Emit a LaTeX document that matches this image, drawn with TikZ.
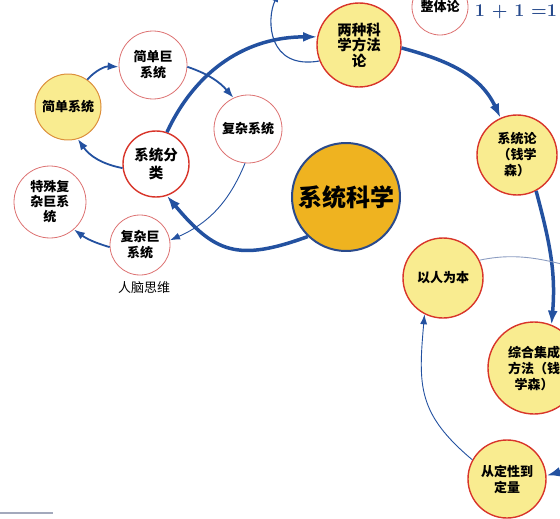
\documentclass[tikz,border=0pt]{standalone}
\usepackage{fontspec}
\newfontfamily\cjk{Noto Sans CJK SC}
\usetikzlibrary{arrows.meta}
\definecolor{arcblue}{HTML}{2351A0}
\definecolor{paleblue}{HTML}{8C9DC2}
\definecolor{navy}{HTML}{2A4A8C}
\definecolor{lightgold}{HTML}{F9EC90}
\definecolor{deepgold}{HTML}{EFB320}
\definecolor{rimred}{HTML}{D8352A}
\definecolor{rimpink}{HTML}{DD7272}
\definecolor{rimorange}{HTML}{DC8F3C}
\definecolor{eqblue}{HTML}{26498C}
\definecolor{rulegray}{HTML}{A3A9BC}
\tikzset{>=latex}
\tikzset{
  sysnode/.style={circle, inner sep=0pt, align=center, text=black,
    font=\cjk\bfseries\fontsize{13}{16}\selectfont},
  whitenode/.style={sysnode, fill=white, draw=rimpink, line width=0.8pt},
  yellownode/.style={sysnode, fill=lightgold, draw=rimred, line width=1.4pt},
  thickarc/.style={->, >={Latex[length=14pt,width=10pt]}, draw=arcblue, line width=3.5pt},
  midarc/.style={->, >={Latex[length=11pt,width=8pt]}, draw=arcblue, line width=1.8pt},
  thinarc/.style={->, >={Latex[length=10pt,width=7pt]}, draw=arcblue, line width=0.9pt}
}

\begin{document}
\begin{tikzpicture}[x=1pt, y=1pt, line join=round]
    \useasboundingbox (0,0) rectangle (560,-519);
    \clip (0,0) rectangle (560,-519);
    \node[whitenode, minimum size=68] (jdj) at (153,-65) {简单巨\\系统};
    \node[yellownode, draw=rimorange, line width=1pt, minimum size=66] (jd) at (68,-107) {简单系统};
    \node[whitenode, minimum size=68] (fz) at (248,-129) {复杂系统};
    \node[whitenode, draw=rimred, line width=1.4pt, minimum size=66,
        font=\cjk\bfseries\fontsize{14.5}{18}\selectfont] (fl) at (156,-164) {系统分\\类};
    \node[whitenode, minimum size=72, font=\cjk\bfseries\fontsize{13}{15}\selectfont] (ts) at (50,-202) {特殊复\\杂巨系\\统};
    \node[whitenode, minimum size=60] (fzj) at (140,-245) {复杂巨\\系统};
    \node[font=\cjk\fontsize{13}{16}\selectfont] (rn) at (144,-288) {人脑思维};
    \node[sysnode, fill=deepgold, draw=navy, line width=2pt, minimum size=108,
        font=\cjk\bfseries\fontsize{24}{28}\selectfont] (xt) at (346,-197) {系统科学};
    \node[yellownode, minimum size=84, font=\cjk\bfseries\fontsize{14.5}{15.5}\selectfont] (lz) at (359,-45) {两种科\\学方法\\论};
    \node[whitenode, minimum size=56] (zt) at (440,-7) {整体论};
    \node[text=eqblue, font=\bfseries\fontsize{18}{18}\selectfont] (eq) at (516,-12) {1 + 1 =1};
    \node[yellownode, minimum size=80] (xtl) at (517,-155) {系统论\\（钱学\\森）};
    \node[yellownode, minimum size=80] (yr) at (443,-278) {以人为本};
    \node[yellownode, minimum size=92] (zh) at (534,-368) {综合集成\\方法（钱\\学森）};
    \node[yellownode, minimum size=78] (cd) at (507,-479) {从定性到\\定量};
    \coordinate (top) at (279,8);
    \coordinate (off) at (610,-275);
    \draw[midarc] (jd.55) to[bend left=25] (jdj.183);
    \draw[midarc] (jdj.-3) to[bend left=15] (fz.115);
    \draw[midarc] (fl.187) to[bend left=22] (jd.287);
    \draw[thinarc] (fz.265) to[bend left=22] (fzj.9);
    \draw[midarc] (fzj.184) to[bend left=10] (ts.311);
    \draw[thickarc] (xt.226) to[out=200, in=-50, looseness=1.3] (fl.289);
    \draw[thickarc] (fl.71) to[out=65, in=180] (lz.169);
    \draw[thinarc, line width=1.1pt] (lz.202) .. controls (268,-70) and (266,-20) .. (top);
    \draw[thickarc] (lz.-4) to[out=-15, in=115] (xtl.114);
    \draw[thickarc] (xtl.-62) to[out=-75, in=85] (zh.68);
    \draw[thickarc] (zh.-30) to[out=-80, in=15] (cd.5);
    \draw[thinarc] (cd.151) to[out=140, in=-95, looseness=1.2] (yr.243);
    \draw[paleblue, line width=0.9pt] (yr.26) to[out=12, in=170] (off);
    \draw[rulegray, line width=2pt] (0,-513) -- (53,-513);
\end{tikzpicture}
\end{document}
